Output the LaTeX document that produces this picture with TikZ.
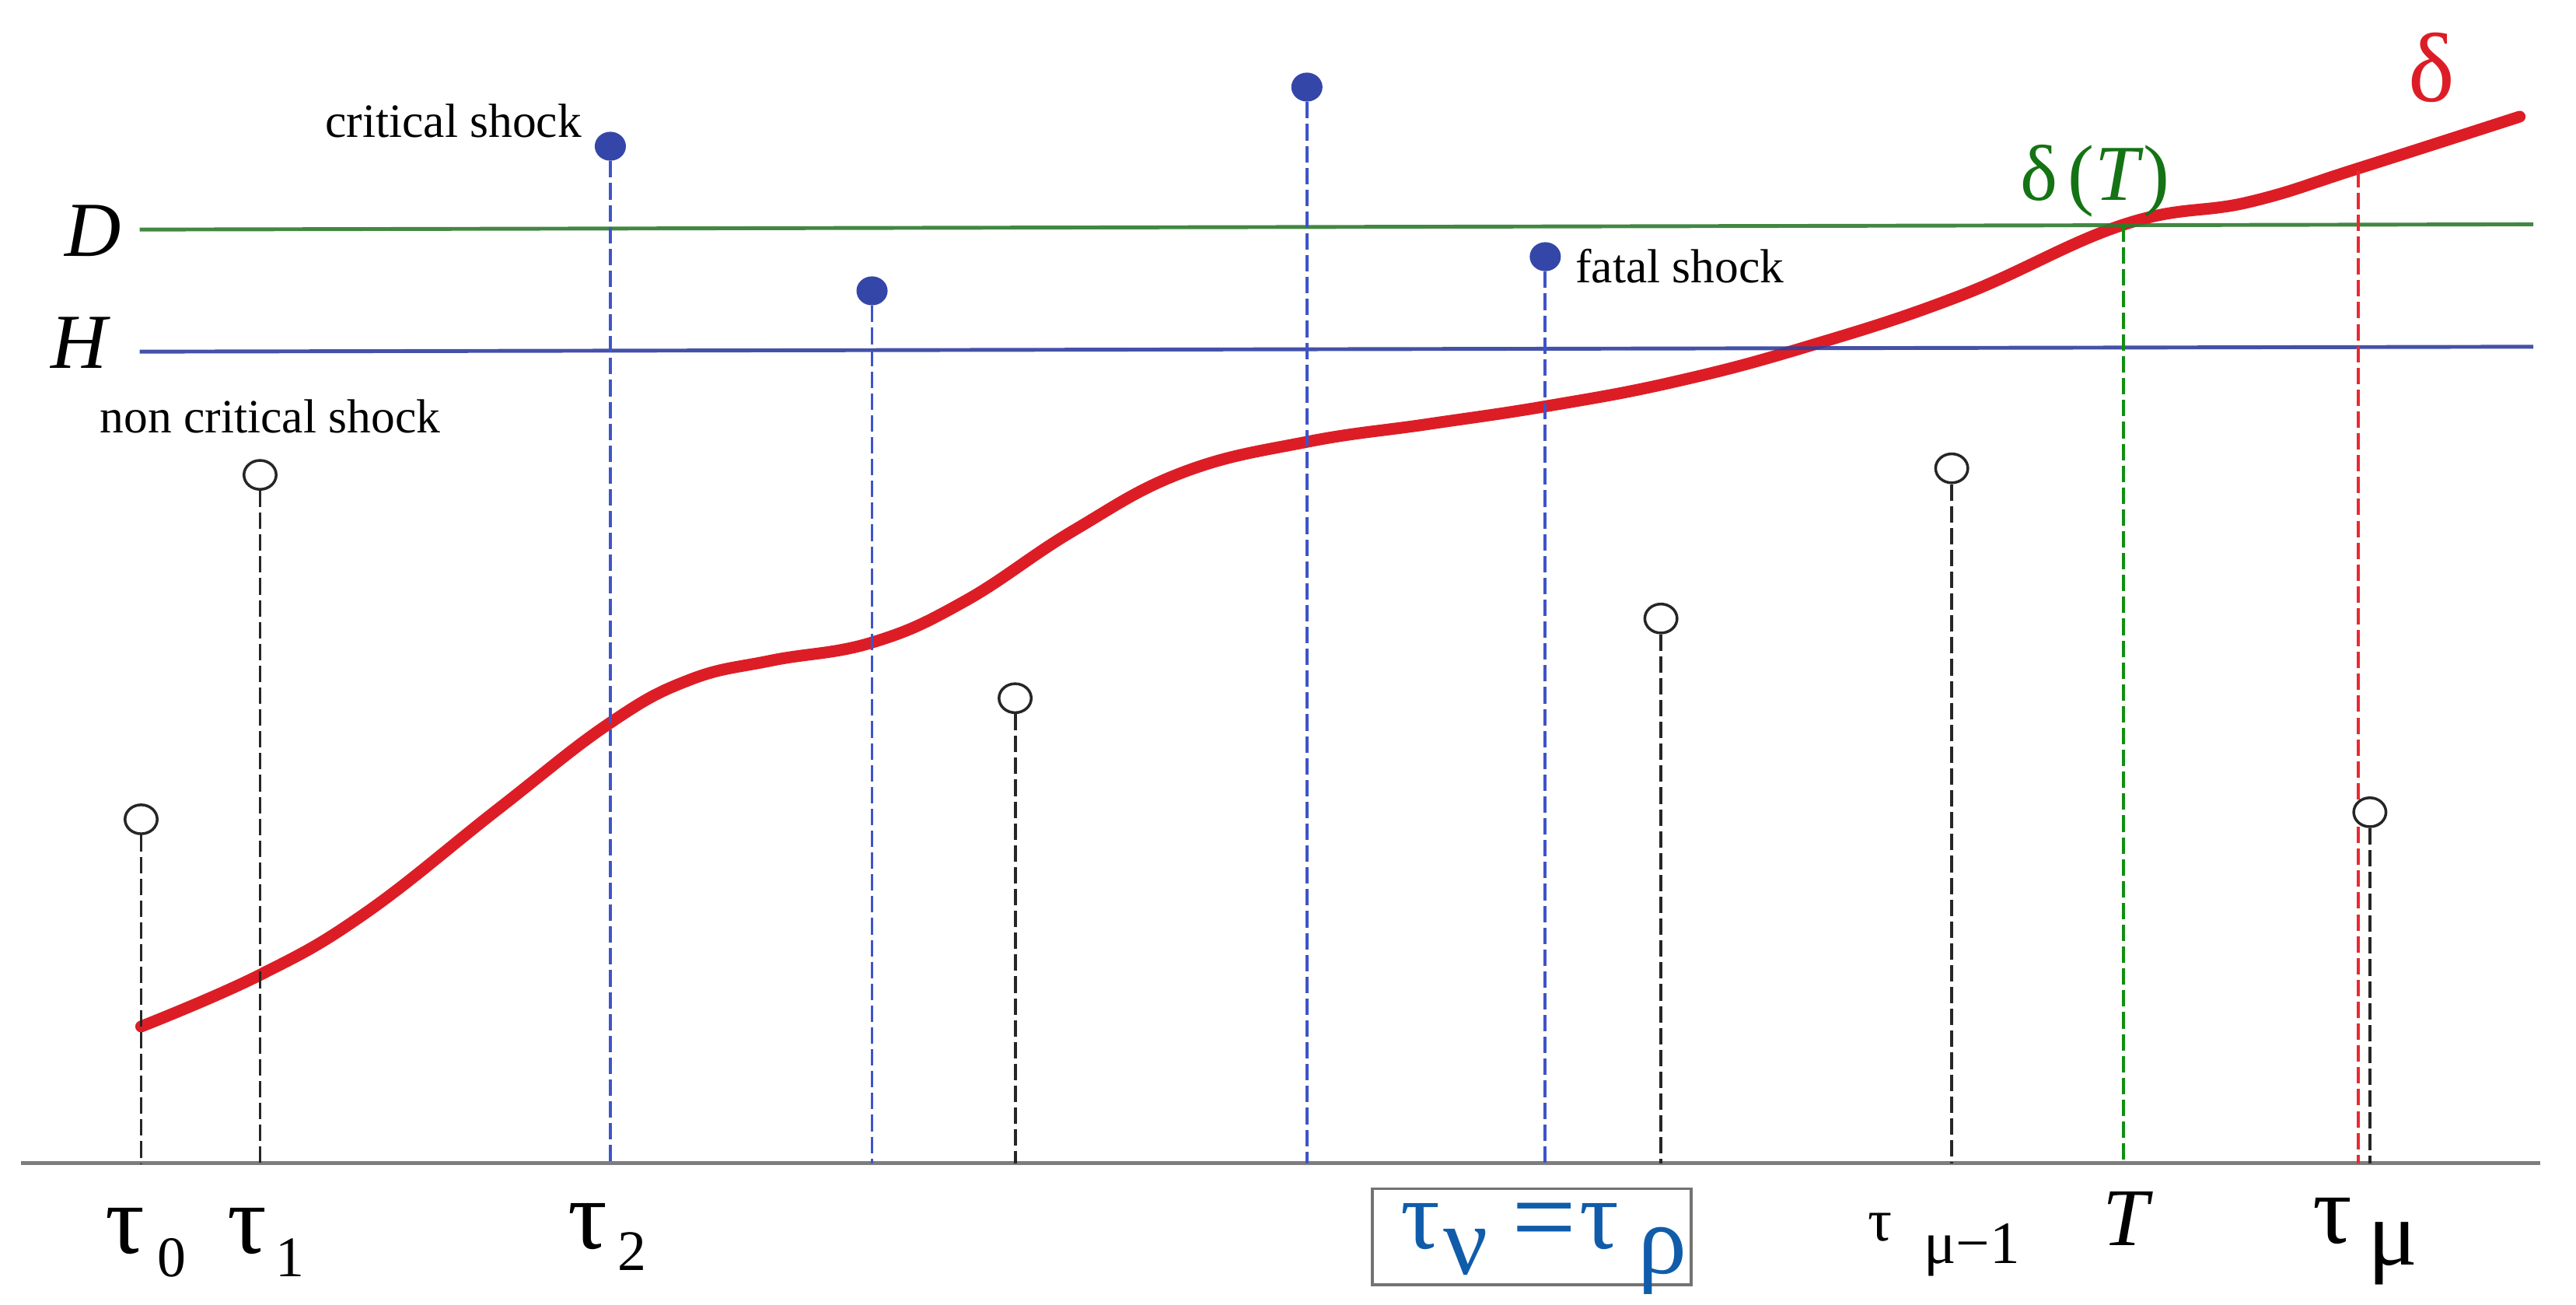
\documentclass[tikz,border=0pt]{standalone}
\usepackage{fontspec}
\setmainfont{Liberation Serif}
\usetikzlibrary{shapes.geometric}
\definecolor{curvered}{RGB}{221,29,38}
\definecolor{dgreen}{RGB}{46,122,46}
\definecolor{hblue}{RGB}{48,62,158}
\definecolor{stemblue}{RGB}{62,84,200}
\definecolor{dotblue}{RGB}{52,70,168}
\definecolor{tgreen}{RGB}{20,115,20}
\definecolor{boxblue}{RGB}{16,92,170}
\definecolor{redstem}{RGB}{235,40,50}
\definecolor{axisgray}{RGB}{125,125,125}
\newcommand{\fsz}[1]{\fontsize{#1}{#1}\selectfont}
\begin{document}
\begin{tikzpicture}[x=0.021129cm,y=-0.021129cm,
  stemline/.style={line width=1.1pt, dash pattern=on 6pt off 2pt},
  blackstem/.style={stemline, draw=black!85},
  bluestem/.style={stemline, draw=stemblue},
  opencirc/.style={ellipse, draw=black!85, fill=white, line width=1pt, minimum width=11.8pt, minimum height=10.6pt, inner sep=0pt},
  fulldot/.style={ellipse, fill=dotblue, minimum width=11.4pt, minimum height=10.6pt, inner sep=0pt},
  lbl/.style={anchor=base west, inner sep=0pt, outer sep=0pt},
]
\useasboundingbox (0,0) rectangle (1568,794);

% axis
\coordinate (axL) at (13,708);
\coordinate (axR) at (1546,708);
\draw[axisgray, line width=1.4pt] (axL) -- (axR);

% degradation curve
\draw[curvered, line width=4.3pt, line cap=round] plot[smooth, tension=0.7] coordinates {
 (85.9,624.7) (158,593.4) (222,556) (303.4,492.2) (370.8,440.3) (419.6,413.8)
 (469.4,402) (530.8,391) (587,366) (653.4,322.9) (719.9,287.5) (795.5,268.9)
 (869.2,258.1) (940.6,247.3) (1017.6,232.7) (1098.3,211.4) (1193.1,180)
 (1293.2,136.5) (1368.7,123) (1435.4,102.5) (1533.7,71)};

% thresholds
\coordinate (DL) at (85,139.7);
\coordinate (DR) at (1542,136.5);
\coordinate (HL) at (85,214);
\coordinate (HR) at (1542,211);
\draw[dgreen, line width=1.4pt, opacity=0.9] (DL) -- (DR);
\draw[hblue, line width=1.4pt, opacity=0.9] (HL) -- (HR);

% T and tau_mu markers
\coordinate (Tc) at (1292.5,137);
\coordinate (Mc) at (1435.5,104);
\draw[stemline, draw=tgreen!80!green] (Tc) -- (Tc |- axL);
\draw[stemline, draw=redstem] (Mc) -- (Mc |- axL);

% shocks
\node[opencirc] (s0) at (85.9,498.6) {};
\node[opencirc] (s1) at (158.3,289) {};
\node[fulldot]  (s2) at (371.5,89) {};
\node[fulldot]  (s3) at (530.8,177) {};
\node[opencirc] (s4) at (617.9,424.9) {};
\node[fulldot]  (s5) at (795.5,53) {};
\node[fulldot]  (s6) at (940.6,156.2) {};
\node[opencirc] (s7) at (1011,376.4) {};
\node[opencirc] (s8) at (1188,285) {};
\node[opencirc] (s9) at (1442.5,494.3) {};

\foreach \s in {s0,s1,s4,s7,s8,s9}
  \draw[blackstem] (\s.south) -- (\s.south |- axL);
\foreach \s in {s2,s3,s5,s6}
  \draw[bluestem] (\s.south) -- (\s.south |- axL);

% text labels
\node[lbl, font=\fsz{17.5}] (crit) at (198,83.5) {critical shock};
\node[lbl, font=\fsz{17.5}] (noncrit) at (61,263.6) {non critical shock};
\node[lbl, font=\fsz{17.5}] (fatal) at (959,172) {fatal shock};
\node[lbl, font=\fsz{28.5}\itshape] (Dlab) at (39.4,156) {D};
\node[lbl, font=\fsz{28.5}\itshape] (Hlab) at (31,224) {H};
\node[lbl, font=\fsz{29}, text=tgreen] (dT) at (1229.6,122) {δ\hspace{4pt}(\textit{T})};
\node[lbl, font=\fsz{36}, text=curvered] (del) at (1466,62) {δ};

% time labels
\node[lbl, font=\fsz{36}] (t0) at (63.9,762.9) {\makebox[19.1pt][l]{τ}\raisebox{-8.5pt}{\fsz{21}0}};
\node[lbl, font=\fsz{36}] (t1) at (138.2,762.9) {\makebox[17.9pt][l]{τ}\raisebox{-8.5pt}{\fsz{21}1}};
\node[lbl, font=\fsz{36}] (t2) at (345.6,760) {\makebox[18.3pt][l]{τ}\raisebox{-7.8pt}{\fsz{21}2}};
\node[lbl, font=\fsz{22}] (tm1) at (1137,755) {\makebox[20.4pt][l]{τ}\raisebox{-8.4pt}{μ−1}};
\node[lbl, font=\fsz{30}\itshape] (Tlab) at (1280,758) {T};
\node[lbl, font=\fsz{36}] (tmu) at (1408,756.5) {\makebox[20.1pt][l]{τ}\raisebox{-8.1pt}{\fsz{34}μ}};

% boxed equality
\node[draw=black!55, line width=1pt, minimum width=116.7pt, minimum height=35.2pt, inner sep=0pt] (box) at (932.35,752.6) {};
\node[lbl, font=\fsz{36}, text=boxblue] (eq) at (852.8,759.8)
  {\makebox[15.6pt][l]{τ}\makebox[25.1pt][l]{\raisebox{-9.3pt}{ν}}\makebox[24.7pt][l]{\raisebox{-2.5pt}{\fsz{42}=}}\makebox[21.3pt][l]{τ}\raisebox{-9pt}{ρ}};
\end{tikzpicture}
\end{document}
